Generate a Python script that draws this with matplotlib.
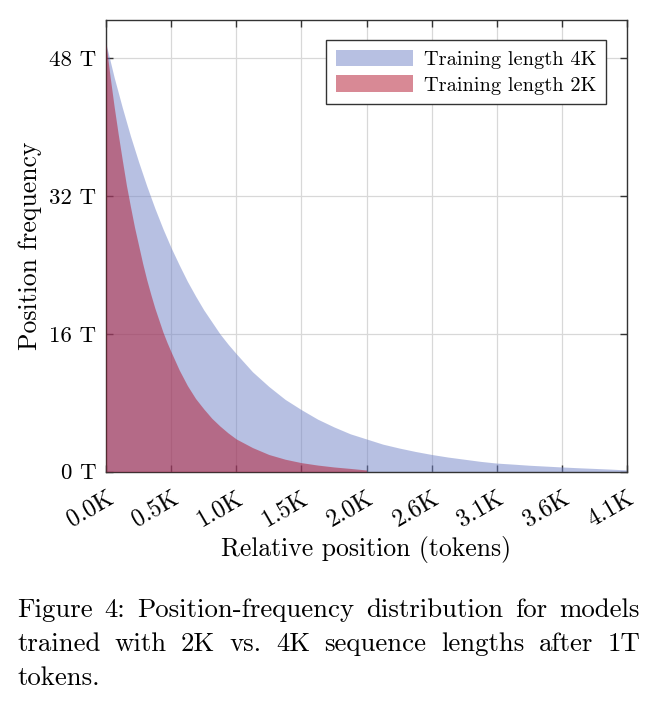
import matplotlib
matplotlib.use("Agg")
import matplotlib.pyplot as plt
from matplotlib.transforms import ScaledTranslation

plt.rcParams['font.family'] = ['cmr10', 'DejaVu Serif']
plt.rcParams['axes.formatter.use_mathtext'] = True

# ---- data (tokens, trillions of positions) ----
pos_4k = [0, 64, 128, 192, 256, 320, 384, 448, 512, 576, 640, 704, 768, 832, 896, 960,
          1024, 1152, 1280, 1408, 1536, 1664, 1792, 1920, 2048, 2176, 2304, 2432,
          2560, 2688, 2816, 2944, 3072, 3200, 3328, 3456, 3584, 3712, 3840, 3968, 4096]
freq_4k = [49.7, 45.8, 42.3, 39.0, 36.0, 33.2, 30.6, 28.2, 26.0, 24.0, 22.1, 20.4, 18.8,
           17.4, 16.0, 14.8, 13.7, 11.6, 9.9, 8.4, 7.2, 6.1, 5.2, 4.4, 3.8, 3.2, 2.75,
           2.35, 2.0, 1.7, 1.45, 1.2, 1.0, 0.88, 0.75, 0.65, 0.55, 0.46, 0.38, 0.3, 0.2]

pos_2k = [0, 32, 64, 96, 128, 160, 192, 224, 256, 288, 320, 352, 384, 416, 448, 480,
          512, 576, 640, 704, 768, 832, 896, 960, 1024, 1152, 1280, 1408, 1536,
          1664, 1792, 1920, 2048]
freq_2k = [49.7, 45.9, 42.4, 39.2, 36.2, 33.3, 30.8, 28.4, 26.3, 24.2, 22.3, 20.6, 19.0,
           17.6, 16.2, 15.0, 13.9, 11.8, 10.0, 8.5, 7.3, 6.2, 5.3, 4.5, 3.8, 2.8, 2.0,
           1.45, 1.05, 0.77, 0.55, 0.38, 0.2]

xticks = [0, 512, 1024, 1536, 2048, 2560, 3072, 3584, 4096]
xtick_labels = ["0.0K", "0.5K", "1.0K", "1.5K", "2.0K", "2.6K", "3.1K", "3.6K", "4.1K"]
yticks = [0, 16, 32, 48]
ytick_labels = ["0 T", "16 T", "32 T", "48 T"]

caption_lines = ["Figure 4: Position-frequency distribution for models",
                 "trained with 2K vs.  4K sequence lengths after 1T",
                 "tokens."]

W, H = 670, 704
fig = plt.figure(figsize=(W / 100, H / 100), dpi=100)
ax = fig.add_axes([106 / W, 1 - 471.7 / H, (627 - 106) / W, (471.7 - 20) / H])

blue = (113 / 255, 131 / 255, 199 / 255)
red = (179 / 255, 21 / 255, 45 / 255)

ax.fill_between(pos_4k, 0, freq_4k, color=blue, alpha=0.5, linewidth=0,
                label="Training length 4K", zorder=2)
ax.fill_between(pos_2k, 0, freq_2k, color=red, alpha=0.5, linewidth=0,
                label="Training length 2K", zorder=3)

ax.set_xlim(0, 4096)
ax.set_ylim(0, 52.45)
ax.set_xticks(xticks)
ax.set_xticklabels(xtick_labels)
ax.set_yticks(yticks)
ax.set_yticklabels(ytick_labels)
ax.tick_params(direction='in', top=True, right=True, length=5, width=1,
               color='#333333', labelsize=16.5, pad=7)
ax.tick_params(axis='x', pad=27, labelsize=17.5)
ax.grid(True, color='#d8d8d8', linewidth=0.9, zorder=1)
ax.set_axisbelow(True)
for s in ax.spines.values():
    s.set_color('#333333')
    s.set_linewidth(1.0)

shift = ScaledTranslation(-16 / 100, 0, fig.dpi_scale_trans)
for lab in ax.get_xticklabels():
    lab.set_rotation(30)
    lab.set_rotation_mode('anchor')
    lab.set_ha('center')
    lab.set_va('center')
    lab.set_transform(lab.get_transform() + shift)

ax.set_xlabel("Relative position (tokens)", fontsize=18.5)
ax.xaxis.label.set_va('center')
ax.xaxis.set_label_coords(0.5, -0.173)
ax.set_ylabel("Position frequency", fontsize=18.5)
ax.yaxis.label.set_va('center')
ax.yaxis.set_label_coords(-0.146, 0.5)

leg = ax.legend(loc='upper right', bbox_to_anchor=(0.96, 0.955), borderaxespad=0,
                fancybox=False, edgecolor='#333333', framealpha=1, fontsize=14.7,
                handlelength=3.8, handleheight=0.9, handletextpad=0.55,
                borderpad=0.45, labelspacing=0.3)
leg.get_frame().set_linewidth(1.0)

# ---- caption (justified lines) ----
fig.canvas.draw()
renderer = fig.canvas.get_renderer()
x0, x1 = 17, 640
ys = [610, 644, 678]
cap_fs = 19.3
for i, line in enumerate(caption_lines):
    yf = 1 - ys[i] / H
    if i == len(caption_lines) - 1:
        fig.text(x0 / W, yf, line, fontsize=cap_fs, ha='left', va='center')
        continue
    words = line.split()
    widths = []
    for w in words:
        t = fig.text(0, 0, w, fontsize=cap_fs)
        bb = t.get_window_extent(renderer)
        widths.append(bb.width)
        t.remove()
    gap = (x1 - x0 - sum(widths)) / (len(words) - 1)
    x = x0
    for w, wd in zip(words, widths):
        fig.text(x / W, yf, w, fontsize=cap_fs, ha='left', va='center')
        x += wd + gap

fig.savefig("out.png", dpi=100)
